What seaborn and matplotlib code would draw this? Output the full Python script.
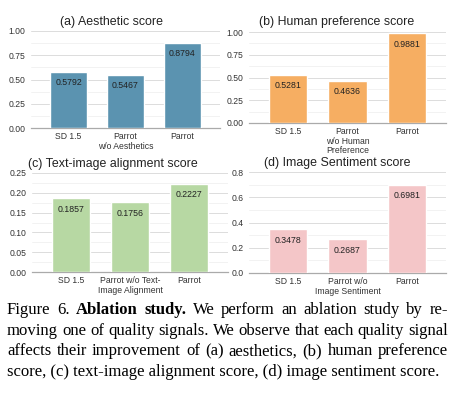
import matplotlib
matplotlib.use("Agg")
import matplotlib.pyplot as plt
import seaborn as sns
import pandas as pd
from matplotlib.ticker import MultipleLocator

sns.set_theme(style="white")
plt.rcParams['font.family'] = ['Liberation Sans', 'DejaVu Sans']

# ---- data ----
titles = ["(a) Aesthetic score", "(b) Human preference score",
          "(c) Text-image alignment score", "(d) Image Sentiment score"]
labels_a = ["SD 1.5", "Parrot\nw/o Aesthetics", "Parrot"]
labels_b = ["SD 1.5", "Parrot\nw/o Human\nPreference", "Parrot"]
labels_c = ["SD 1.5", "Parrot w/o Text-\nImage Alignment", "Parrot"]
labels_d = ["SD 1.5", "Parrot w/o\nImage Sentiment", "Parrot"]
values_a = [0.5792, 0.5467, 0.8794]
values_b = [0.5281, 0.4636, 0.9881]
values_c = [0.1857, 0.1756, 0.2227]
values_d = [0.3478, 0.2687, 0.6981]
colors = ["#5b93b0", "#f6ae62", "#b7d8a3", "#f4c6c8"]
ylims = [1.0, 1.0, 0.25, 0.8]
major = [0.25, 0.25, 0.05, 0.2]
tickfmt = ["{:.2f}", "{:.2f}", "{:.2f}", "{:.1f}"]

W, H = 474, 395
fig = plt.figure(figsize=(W / 100, H / 100), dpi=100)
fig.patch.set_facecolor("white")

# axes rectangles in pixels: left, right, top(y at ymax), bottom(y at 0)
rects = [(31, 220, 31, 128), (249, 446, 32, 123), (32, 228, 173, 272), (249, 446, 172, 273)]
title_y = [22, 22, 164, 163]
title_x = [112, 337, 113, 337]

all_labels = [labels_a, labels_b, labels_c, labels_d]
all_values = [values_a, values_b, values_c, values_d]

for i in range(4):
    l, r, t, b = rects[i]
    ax = fig.add_axes([l / W, 1 - b / H, (r - l) / W, (b - t) / H])
    df = pd.DataFrame({"label": all_labels[i], "value": all_values[i]})
    sns.barplot(data=df, x="label", y="value", color=colors[i], saturation=1,
                width=0.65, ax=ax, zorder=3)
    ax.set_xlim(-0.66, 2.66)
    ax.set_ylim(0, ylims[i])
    ax.yaxis.set_major_locator(MultipleLocator(major[i]))
    ax.yaxis.set_minor_locator(MultipleLocator(major[i] / 2))
    ax.grid(axis="y", which="major", color="#dcdcdc", linewidth=0.7, zorder=0)
    ax.grid(axis="y", which="minor", color="#f0f0f0", linewidth=0.6, zorder=0)
    ax.set_axisbelow(True)
    for s in ["top", "right", "left"]:
        ax.spines[s].set_visible(False)
    ax.spines["bottom"].set_color("#aaaaaa")
    ax.spines["bottom"].set_linewidth(0.9)
    ax.set_xlabel("")
    ax.set_ylabel("")
    ax.set_yticklabels([tickfmt[i].format(v) for v in ax.get_yticks()])
    ax.tick_params(axis="y", labelsize=6.2, length=0, pad=4, labelcolor="#333333")
    ax.tick_params(axis="x", labelsize=6.2, length=0, pad=3, labelcolor="#333333")
    for lab in ax.get_xticklabels():
        lab.set_linespacing(1.05)
    for xi, v in enumerate(all_values[i]):
        ax.annotate(f"{v:.4f}", (xi, v), xytext=(0, -11), textcoords="offset pixels",
                    ha="center", va="center", fontsize=6.3, color="#222222")
    fig.text(title_x[i] / W, 1 - title_y[i] / H, titles[i], ha="center", va="center",
             fontsize=8.9, color="#222222")

# ---- caption (justified) ----
cap_lines = [
    [("Figure", False), ("6.", False), ("Ablation", True), ("study.", True), ("We", False),
     ("perform", False), ("an", False), ("ablation", False), ("study", False), ("by", False), ("re-", False)],
    [(w, False) for w in "moving one of quality signals. We observe that each quality signal".split()],
    [(w, False) for w in "affects their improvement of (a) aesthetics, (b) human preference".split()],
]
last_line = "score, (c) text-image alignment score, (d) image sentiment score."
baselines = [314, 334.7, 355.3, 376]
x0, x1 = 7, 448
fs = 12.0
serif = ["Liberation Serif", "DejaVu Serif"]
fig.canvas.draw()
renderer = fig.canvas.get_renderer()
for li, words in enumerate(cap_lines):
    texts = []
    widths = []
    for w, bold in words:
        t = fig.text(0, 1 - baselines[li] / H, w, fontsize=fs, va="baseline", ha="left",
                     family=serif, fontweight="bold" if bold else "normal", color="black")
        texts.append(t)
        widths.append(t.get_window_extent(renderer).width)
    gap = (x1 - x0 - sum(widths)) / (len(words) - 1)
    x = x0
    for t, wd in zip(texts, widths):
        t.set_x(x / W)
        x += wd + gap
fig.text(x0 / W, 1 - baselines[3] / H, last_line, fontsize=fs, va="baseline", ha="left",
         family=serif, color="black")

fig.savefig("out.png", dpi=100, facecolor="white")
